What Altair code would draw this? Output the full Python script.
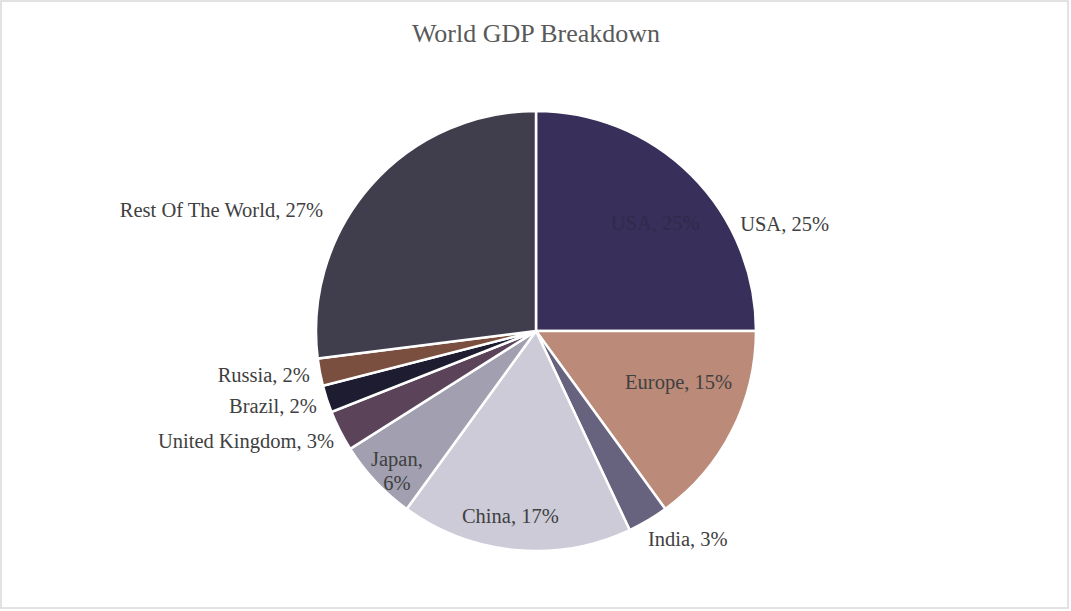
import altair as alt
import pandas as pd

# World GDP shares, clockwise from 12 o'clock
countries = ["USA", "Europe", "India", "China", "Japan",
             "United Kingdom", "Brazil", "Russia", "Rest Of The World"]
shares = [25, 15, 3, 17, 6, 3, 2, 2, 27]
slice_colors = ["#382f5a", "#bb8a79", "#67627e", "#cdcbd8", "#a19fb0",
                "#5b4459", "#1e1c30", "#7b4f3f", "#403d4c"]

labels = [f"{c}, {v}%" for c, v in zip(countries, shares)]
labels[countries.index("Japan")] = "Japan,\n6%"

df = pd.DataFrame({
    "country": countries,
    "share": shares,
    "idx": list(range(len(countries))),
    "label": labels,
})

FONT = "Liberation Serif"
CX, CY = 535, 330          # pie centre inside the view
R = 220
TWO_PI = 6.283185307179586

base = alt.Chart(df)

pie = base.mark_arc(outerRadius=R, stroke="white", strokeWidth=2.5).encode(
    theta=alt.Theta("share:Q", stack=True),
    order=alt.Order("idx:Q"),
    color=alt.Color("country:N", sort=None,
                    scale=alt.Scale(domain=countries, range=slice_colors),
                    legend=None),
    x=alt.value(CX),
    y=alt.value(CY),
)


def label(name, radius, align, dx, dy, color="#404040"):
    """Text placed at the middle angle of a slice, nudged by dx/dy."""
    return base.transform_window(
        cum="sum(share)", sort=[alt.SortField("idx")]
    ).transform_calculate(
        mid="datum.cum - datum.share / 2"
    ).transform_filter(
        alt.datum.country == name
    ).mark_text(
        radius=radius, align=align, baseline="middle", dx=dx, dy=dy,
        font=FONT, fontSize=20.5, color=color, lineBreak="\n", lineHeight=24,
    ).encode(
        theta=alt.Theta("mid:Q", stack=False,
                        scale=alt.Scale(domain=[0, 100], range=[0, TWO_PI])),
        text="label:N",
        x=alt.value(CX),
        y=alt.value(CY),
    )


texts = [
    label("USA", 160, "center", 6, 6, "#302a4b"),
    label("USA", 160, "left", 91, 7),
    label("Europe", 151, "center", 8, -17),
    label("India", R, "left", 0, 20),
    label("China", 188, "center", -8, -1),
    label("Japan", 188, "center", -2, 0),
    label("United Kingdom", R, "right", -6, 11),
    label("Brazil", R, "right", -10, 8),
    label("Russia", R, "right", -10, 4),
    label("Rest Of The World", R, "right", -48, 25),
]

title = alt.Chart(pd.DataFrame({"t": ["World GDP Breakdown"]})).mark_text(
    font=FONT, fontSize=26, color="#595959", align="center", baseline="middle"
).encode(text="t:N", x=alt.value(535), y=alt.value(33))

chart = alt.layer(pie, *texts, title).properties(
    width=1067, height=607,
    padding={"left": 1, "top": 1, "right": 3, "bottom": 3},
    autosize=alt.AutoSizeParams(type="none"),
    background="white",
).configure_view(stroke="#d9d9d9", strokeWidth=1.5)

chart.save("out.html", embed_options={"renderer": "svg", "actions": False})
